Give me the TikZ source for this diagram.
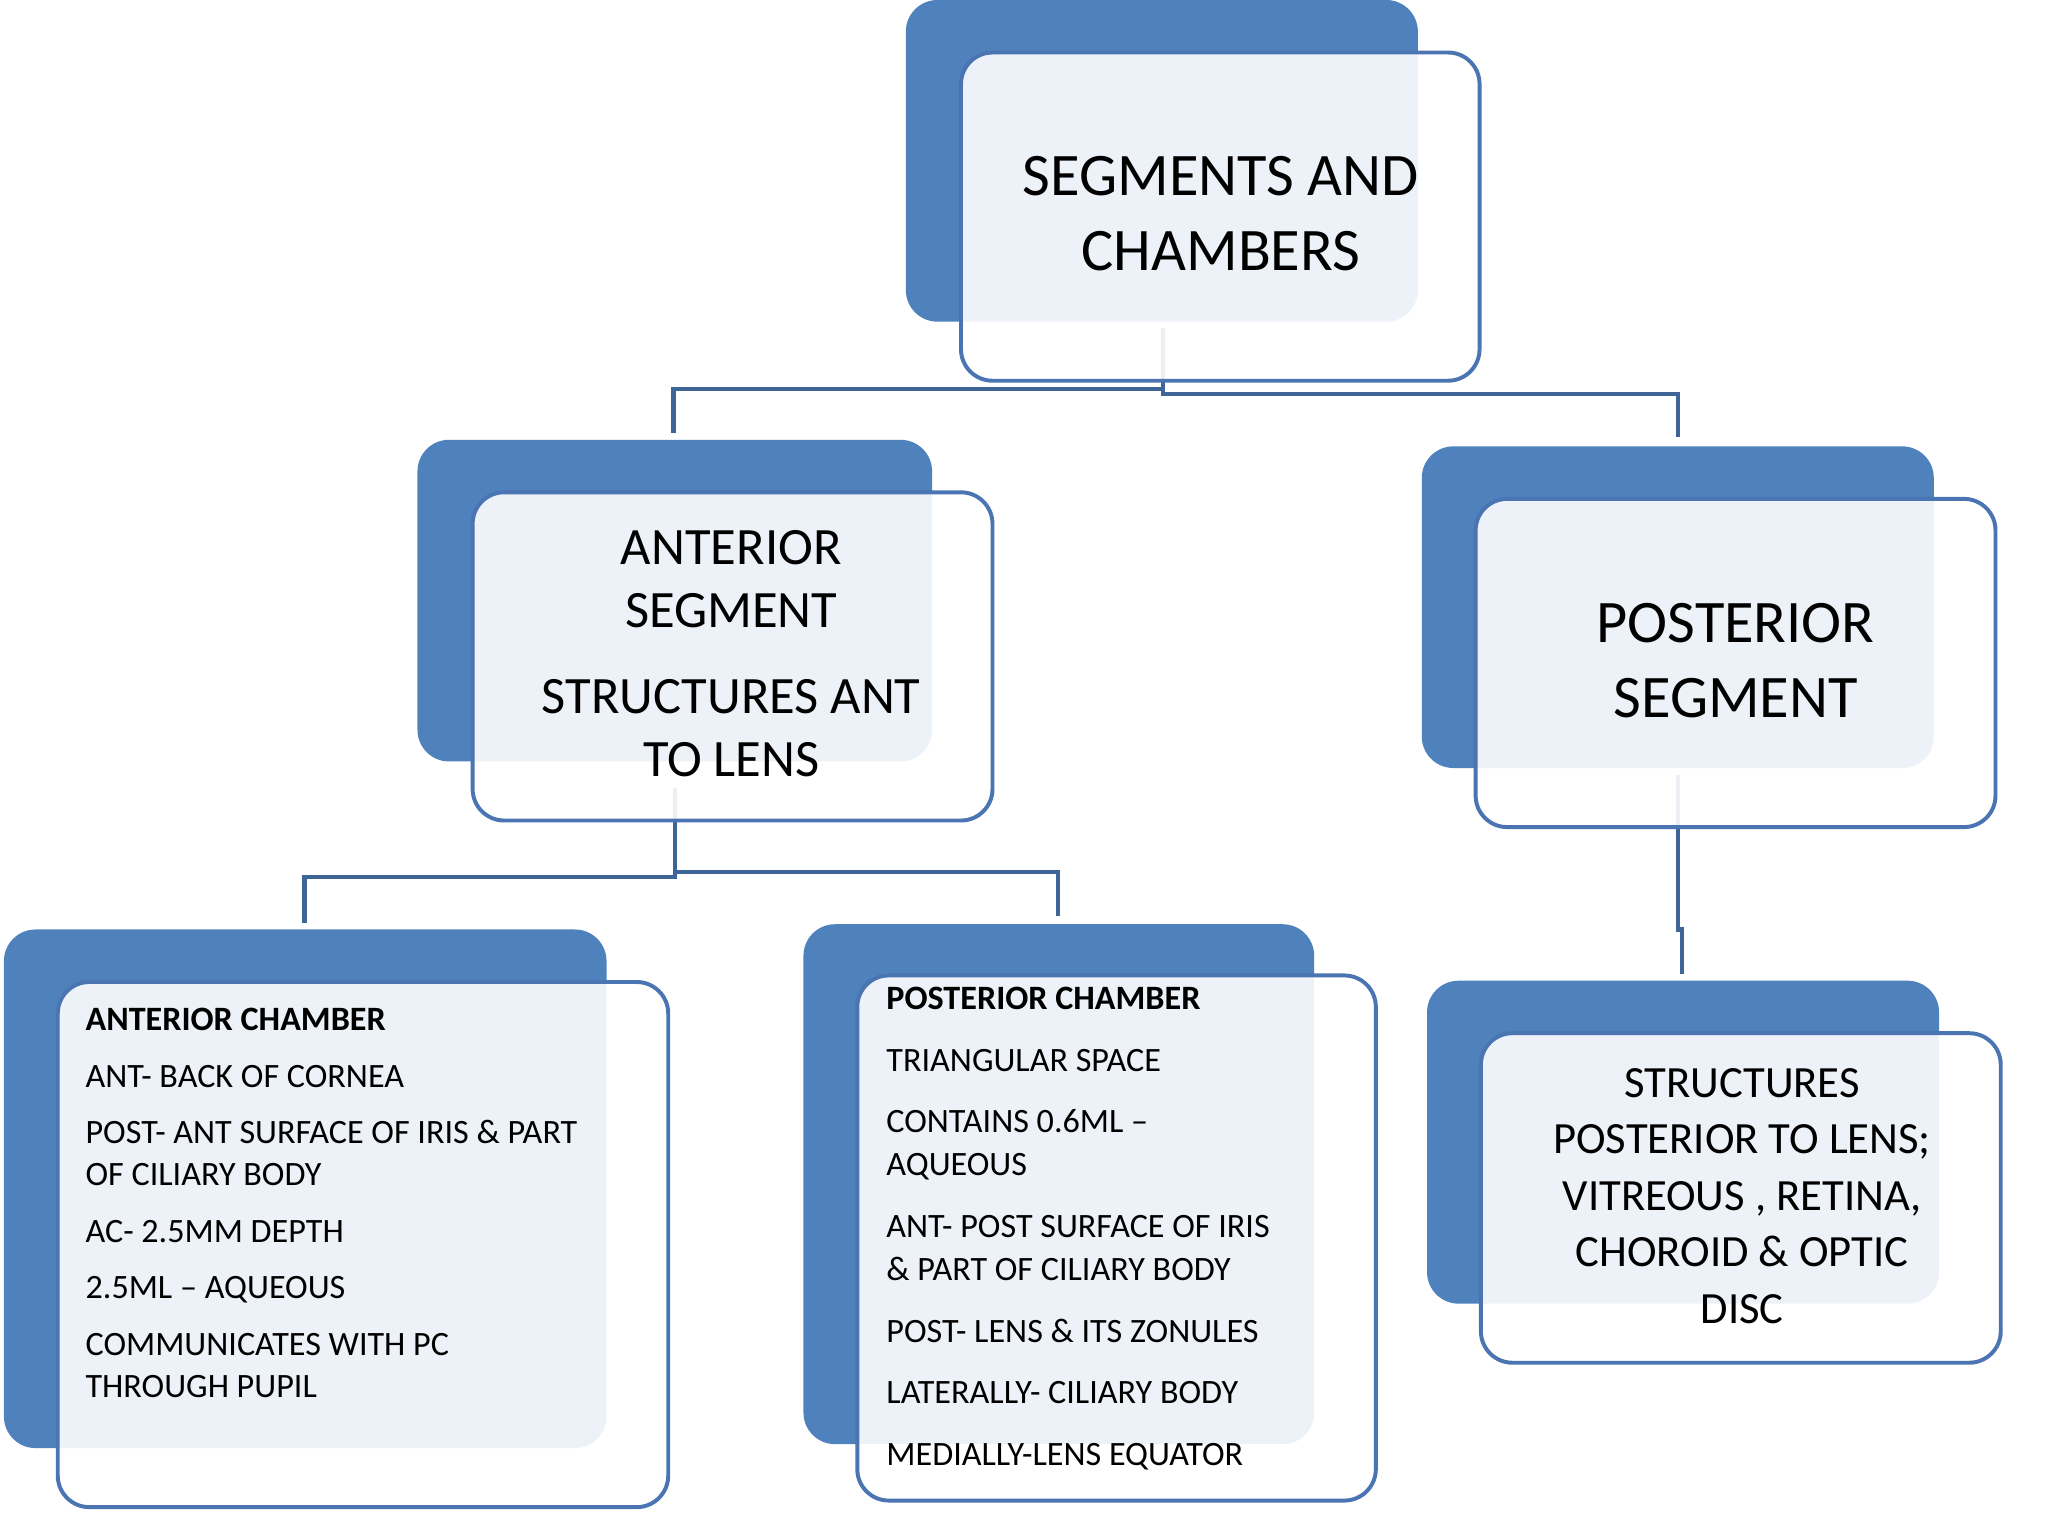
\documentclass[tikz,border=0pt]{standalone}
\usepackage{fontspec}
\setmainfont{Carlito}
\begin{document}
\begin{tikzpicture}[x=1pt,y=-1pt,
  back/.style={fill=blue1,rounded corners=24pt,draw=none},
  front/.style={fill=white,fill opacity=0.9,draw=line1,line width=3pt,rounded corners=24pt},
  conn/.style={draw=conn1,line width=3.2pt}]
\definecolor{blue1}{HTML}{4F81BD}
\definecolor{line1}{HTML}{4A74B2}
\definecolor{conn1}{HTML}{3F6598}
\useasboundingbox (0,0) rectangle (1560,1165);
% connectors
\coordinate (t1) at (886,250); \coordinate (t2) at (886,296);
\coordinate (as) at (513,330); \coordinate (ps) at (1278,333);
\draw[conn] (t1) -- (t2) -| (as);
\draw[conn] (t2) |- (1278,300) -- (ps);
\coordinate (a1) at (514,600); \coordinate (a2) at (514,666);
\coordinate (ac) at (232,703); \coordinate (pc) at (806,698);
\draw[conn] (a1) -- (a2) -- (514,668) -| (ac);
\draw[conn] (a2) -- (514,664) -| (pc);
\coordinate (p1) at (1278,590); \coordinate (st) at (1281,742);
\draw[conn] (p1) -- (1278,708) -- (1281,708) -- (st);
% boxes
\path[back] (690,0) rectangle (1080,245);
\path[front] (732,40) rectangle (1127,290);
\node[align=center,font=\fontsize{46}{57}\selectfont] (top) at (930,163) {SEGMENTS AND\\CHAMBERS};

\path[back] (318,335) rectangle (710,580);
\path[front] (360,375) rectangle (756,625);
\node[align=center,font=\fontsize{40}{48}\selectfont] (antseg) at (557,498) {ANTERIOR\\SEGMENT\\[18pt]STRUCTURES ANT\\TO LENS};

\path[back] (1083,340) rectangle (1473,585);
\path[front] (1124,380) rectangle (1520,630);
\node[align=center,font=\fontsize{46}{57}\selectfont] (postseg) at (1322,503) {POSTERIOR\\SEGMENT};

\path[back] (3,708) rectangle (462,1103);
\path[front] (44,748) rectangle (509,1148);
\node[anchor=north west,align=left,font=\fontsize{26}{32}\selectfont,inner sep=0pt] (antch) at (65,768)
{\textbf{ANTERIOR CHAMBER}\\[11pt]ANT- BACK OF CORNEA\\[11pt]POST- ANT SURFACE OF IRIS \& PART\\OF CILIARY BODY\\[11pt]AC- 2.5MM DEPTH\\[11pt]2.5ML -- AQUEOUS\\[11pt]COMMUNICATES WITH PC\\THROUGH PUPIL};

\path[back] (612,704) rectangle (1001,1100);
\path[front] (653,743) rectangle (1048,1143);
\node[anchor=north west,align=left,font=\fontsize{26}{33}\selectfont,inner sep=0pt] (postch) at (675,752)
{\textbf{POSTERIOR CHAMBER}\\[14pt]TRIANGULAR SPACE\\[13pt]CONTAINS 0.6ML --\\AQUEOUS\\[14pt]ANT- POST SURFACE OF IRIS\\\& PART OF CILIARY BODY\\[14pt]POST- LENS \& ITS ZONULES\\[14pt]LATERALLY- CILIARY BODY\\[14pt]MEDIALLY-LENS EQUATOR};

\path[back] (1087,747) rectangle (1477,993);
\path[front] (1128,787) rectangle (1524,1038);
\node[align=center,font=\fontsize{34}{43}\selectfont] (struct) at (1327,911) {STRUCTURES\\POSTERIOR TO LENS;\\VITREOUS , RETINA,\\CHOROID \& OPTIC\\DISC};
\end{tikzpicture}
\end{document}
